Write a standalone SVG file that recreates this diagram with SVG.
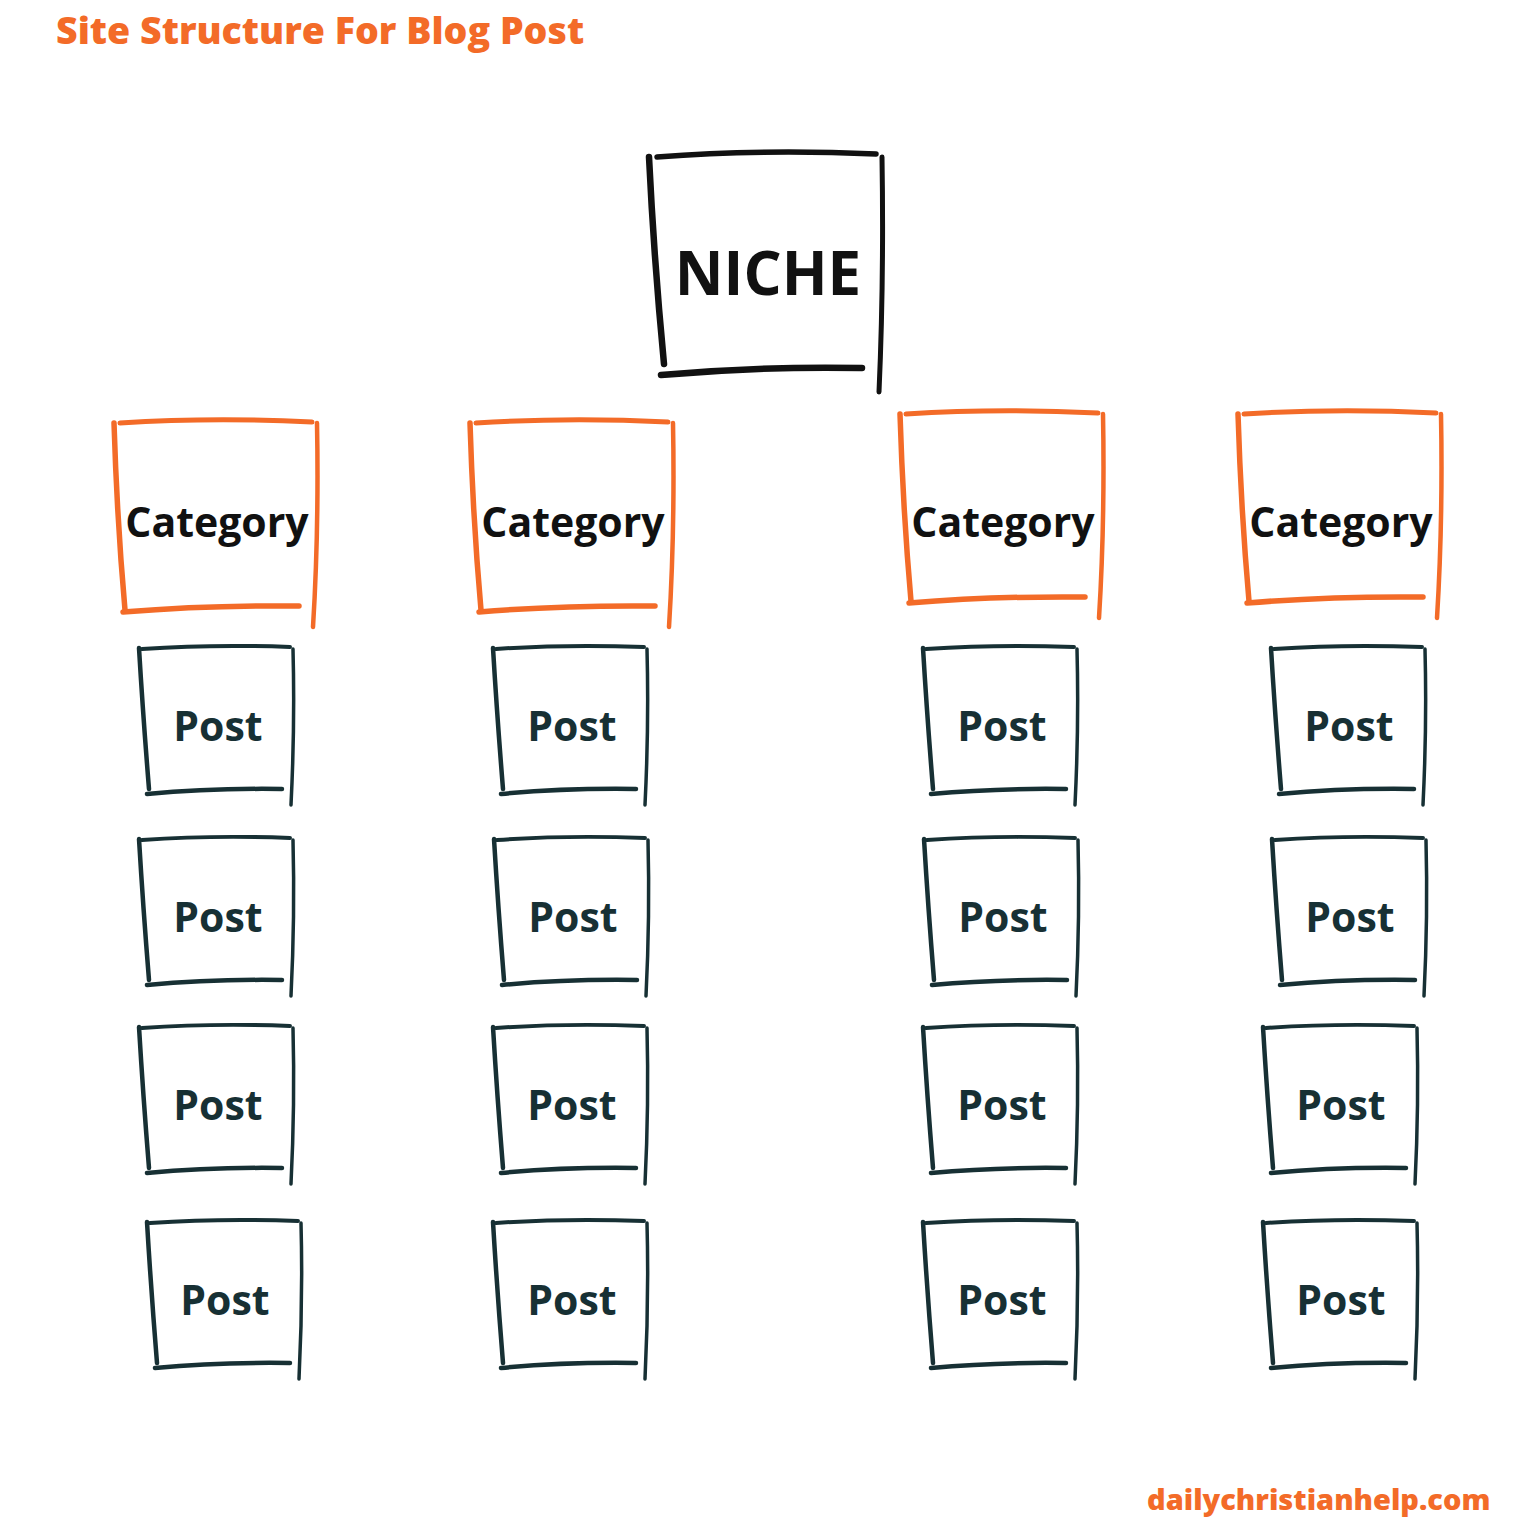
<svg xmlns="http://www.w3.org/2000/svg" xmlns:xlink="http://www.w3.org/1999/xlink" width="1536" height="1536" viewBox="0 0 1536 1536">
<style>
.ttl{font-family:"Open Sans","Liberation Sans",sans-serif;font-weight:800;fill:#f36b28}
.lbl{font-family:"Open Sans","Liberation Sans",sans-serif;font-weight:700;text-anchor:middle}
.post-t{font-size:41px;fill:#173034}
.cat-t{font-size:41px;fill:#111111}
.niche-t{font-size:60px;fill:#111111}
.pst{fill:none;stroke:#173034;stroke-linecap:round}
.cst{fill:none;stroke:#f36b28;stroke-linecap:round}
.nst{fill:none;stroke:#111111;stroke-linecap:round}
</style>
<defs>
<g id="post">
<path class="pst" stroke-width="4.5" d="M1,3 Q5,70 11,144"/>
<path class="pst" stroke-width="4" d="M4,4 Q75,-1 152,2"/>
<path class="pst" stroke-width="3.5" d="M155,4 Q157,80 153,160"/>
<path class="pst" stroke-width="4.5" d="M9,149 Q72,143 144,144"/>
</g>
<g id="cat">
<path class="cst" stroke-width="5.5" d="M1,3 Q4,100 12,190"/>
<path class="cst" stroke-width="5" d="M7,3 Q100,-3 199,2"/>
<path class="cst" stroke-width="4.5" d="M204,3 Q206,110 200,207"/>
<path class="cst" stroke-width="5.5" d="M10,192 Q95,185 186,186"/>
</g>
</defs>
<rect width="1536" height="1536" fill="#ffffff"/>
<text class="ttl" x="56" y="44" font-size="37.5">Site Structure For Blog Post</text>
<text class="ttl" x="1147" y="1510" font-size="29">dailychristianhelp.com</text>
<g id="connectors"/>
<g id="niche">
<path class="nst" stroke-width="6.5" d="M649,157 Q654,260 664,364"/>
<path class="nst" stroke-width="5.5" d="M657,157 Q760,149 876,154"/>
<path class="nst" stroke-width="5" d="M882,157 Q884,280 879,392"/>
<path class="nst" stroke-width="6.5" d="M661,375 Q760,366 862,368"/>
<text class="lbl niche-t" x="768" y="295">NICHE</text>
</g>
<g id="category-1"><use href="#cat" x="113" y="420"/><text class="lbl cat-t" x="217" y="537">Category</text></g>
<g id="category-2"><use href="#cat" x="469" y="420"/><text class="lbl cat-t" x="573" y="537">Category</text></g>
<g id="category-3"><use href="#cat" x="899" y="411"/><text class="lbl cat-t" x="1003" y="537">Category</text></g>
<g id="category-4"><use href="#cat" x="1237" y="411"/><text class="lbl cat-t" x="1341" y="537">Category</text></g>
<g id="post-1-1"><use href="#post" x="138" y="645"/><text class="lbl post-t" x="218" y="741">Post</text></g>
<g id="post-1-2"><use href="#post" x="138" y="836"/><text class="lbl post-t" x="218" y="932">Post</text></g>
<g id="post-1-3"><use href="#post" x="138" y="1024"/><text class="lbl post-t" x="218" y="1120">Post</text></g>
<g id="post-1-4"><use href="#post" x="146" y="1219"/><text class="lbl post-t" x="225" y="1315">Post</text></g>
<g id="post-2-1"><use href="#post" x="492" y="645"/><text class="lbl post-t" x="572" y="741">Post</text></g>
<g id="post-2-2"><use href="#post" x="493" y="836"/><text class="lbl post-t" x="573" y="932">Post</text></g>
<g id="post-2-3"><use href="#post" x="492" y="1024"/><text class="lbl post-t" x="572" y="1120">Post</text></g>
<g id="post-2-4"><use href="#post" x="492" y="1219"/><text class="lbl post-t" x="572" y="1315">Post</text></g>
<g id="post-3-1"><use href="#post" x="922" y="645"/><text class="lbl post-t" x="1002" y="741">Post</text></g>
<g id="post-3-2"><use href="#post" x="923" y="836"/><text class="lbl post-t" x="1003" y="932">Post</text></g>
<g id="post-3-3"><use href="#post" x="922" y="1024"/><text class="lbl post-t" x="1002" y="1120">Post</text></g>
<g id="post-3-4"><use href="#post" x="922" y="1219"/><text class="lbl post-t" x="1002" y="1315">Post</text></g>
<g id="post-4-1"><use href="#post" x="1270" y="645"/><text class="lbl post-t" x="1349" y="741">Post</text></g>
<g id="post-4-2"><use href="#post" x="1271" y="836"/><text class="lbl post-t" x="1350" y="932">Post</text></g>
<g id="post-4-3"><use href="#post" x="1262" y="1024"/><text class="lbl post-t" x="1341" y="1120">Post</text></g>
<g id="post-4-4"><use href="#post" x="1262" y="1219"/><text class="lbl post-t" x="1341" y="1315">Post</text></g>
</svg>
